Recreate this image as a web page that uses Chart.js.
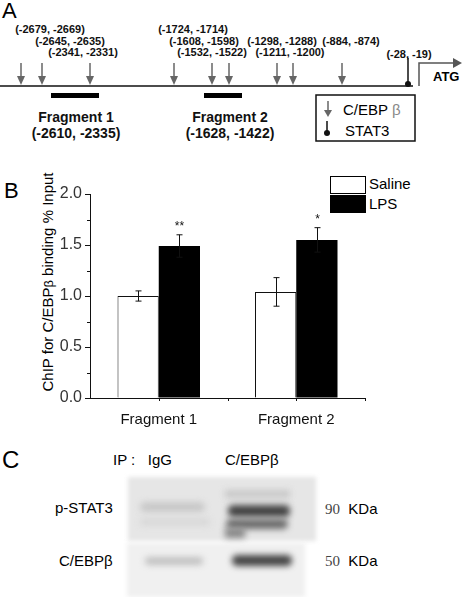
<!DOCTYPE html>
<html><head><meta charset="utf-8">
<script src="https://cdn.jsdelivr.net/npm/chart.js@4"></script>
<style>
body{margin:0;width:474px;height:597px;position:relative;background:#fff;font-family:Arial,"Liberation Sans",sans-serif;overflow:hidden}
.t{position:absolute;white-space:nowrap}
.blur{position:absolute;filter:blur(3px)}
</style></head><body>
<script>
const categories = ["Fragment 1", "Fragment 2"];
const salineValues = [1.00, 1.04];
const salineErrors = [0.05, 0.14];
const lpsValues = [1.49, 1.55];
const lpsErrors = [0.11, 0.12];
const significance = ["**", "*"];
const yTicks = [0, 0.5, 1.0, 1.5, 2.0];
</script>

<svg style="position:absolute;left:0;top:0" width="474" height="165">
<text x="2" y="18" font-size="22" font-family="Arial">A</text>
<g font-size="11" font-weight="bold" font-family="Arial" text-anchor="middle" fill="#111">
<text x="50" y="33">(-2679, -2669)</text>
<text x="70" y="45">(-2645, -2635)</text>
<text x="83" y="56">(-2341, -2331)</text>
<text x="193" y="33">(-1724, -1714)</text>
<text x="204" y="45">(-1608, -1598)</text>
<text x="212" y="56">(-1532, -1522)</text>
<text x="282" y="45">(-1298, -1288)</text>
<text x="290" y="56">(-1211, -1200)</text>
<text x="351" y="45">(-884, -874)</text>
<text x="409" y="58">(-28, -19)</text>
</g>
<line x1="0" y1="86" x2="413" y2="86" stroke="#111" stroke-width="1.5"/>
<g id="arrows"></g>
<line x1="408" y1="58" x2="408" y2="83" stroke="#111" stroke-width="1.5"/>
<circle cx="408" cy="84" r="3" fill="#111"/>
<polyline points="419,86 419,63 455,63" fill="none" stroke="#555" stroke-width="1.5"/>
<polygon points="462,63 453,58 453,68" fill="#555"/>
<text x="433" y="81" font-size="13" font-weight="bold" font-family="Arial">ATG</text>
<rect x="51" y="93" width="48" height="5" fill="#000"/>
<rect x="204" y="93" width="38" height="5" fill="#000"/>
<g font-size="14" font-weight="bold" font-family="Arial" text-anchor="middle" fill="#111">
<text x="76" y="122">Fragment 1</text>
<text x="76" y="138">(-2610, -2335)</text>
<text x="230" y="122">Fragment 2</text>
<text x="230" y="138">(-1628, -1422)</text>
</g>
<rect x="316" y="95" width="99" height="46" fill="#fff" stroke="#111" stroke-width="1.5"/>
<line x1="328" y1="101" x2="328" y2="114" stroke="#666" stroke-width="1.5"/>
<polygon points="324,110 332,110 328,117" fill="#666"/>
<line x1="327" y1="121" x2="327" y2="132" stroke="#111" stroke-width="1.5"/>
<circle cx="327" cy="133" r="3" fill="#111"/>
<text x="343" y="115" font-size="15" font-family="Arial">C/EBP <tspan fill="#888">β</tspan></text>
<text x="345" y="136" font-size="15" font-family="Arial">STAT3</text>
</svg>

<div class="t" style="left:4px;top:178px;font-size:22px">B</div>
<div class="t" style="left:47px;top:282px;font-size:15px;transform:translate(-50%,-50%) rotate(-90deg)">ChIP for C/EBP<span style="font-size:13px">β</span> binding % Input</div>
<div style="position:absolute;left:330px;top:176px;width:34px;height:16px;border:1px solid #000;background:#fff"></div>
<div style="position:absolute;left:330px;top:195px;width:36px;height:18px;background:#000"></div>
<div class="t" style="left:369px;top:175px;font-size:15px">Saline</div>
<div class="t" style="left:369px;top:195px;font-size:15px">LPS</div>

<div style="position:absolute;left:0;top:180px;width:474px;height:250px"><canvas id="c"></canvas></div>

<div class="t" style="left:2px;top:446px;font-size:24px">C</div>
<div class="t" style="left:113px;top:451px;font-size:15px">IP :&nbsp;&nbsp;&nbsp;IgG</div>
<div class="t" style="left:225px;top:451px;font-size:15px">C/EBPβ</div>
<div class="t" style="left:55px;top:499px;font-size:15px">p-STAT3</div>
<div class="t" style="left:59px;top:552px;font-size:15px">C/EBPβ</div>
<div class="t" style="left:325px;top:500px;font-size:15px"><span style="font-family:'Liberation Serif',serif;color:#444">90</span>&nbsp; KDa</div>
<div class="t" style="left:325px;top:552px;font-size:15px"><span style="font-family:'Liberation Serif',serif;color:#444">50</span>&nbsp; KDa</div>
<div style="position:absolute;left:128px;top:477px;width:188px;height:64px;background:#e6e6e6;filter:blur(2px)"></div>
<div style="position:absolute;left:127px;top:543px;width:178px;height:54px;background:#f0f0f0;filter:blur(2px)"></div>
<div class="blur" style="left:140px;top:502px;width:65px;height:10px;background:#c8c8c8;border-radius:5px"></div>
<div class="blur" style="left:140px;top:518px;width:70px;height:8px;background:#d8d8d8;border-radius:4px"></div>
<div class="blur" style="left:225px;top:490px;width:65px;height:8px;background:#c8c8c8"></div>
<div class="blur" style="left:228px;top:505px;width:62px;height:12px;background:#444;border-radius:5px"></div>
<div class="blur" style="left:226px;top:519px;width:62px;height:10px;background:#6a6a6a;border-radius:5px"></div>
<div class="blur" style="left:225px;top:528px;width:20px;height:10px;background:#888"></div>
<div class="blur" style="left:145px;top:557px;width:58px;height:8px;background:#c0c0c0;border-radius:4px"></div>
<div class="blur" style="left:232px;top:555px;width:60px;height:11px;background:#444;border-radius:5px"></div>

<script>
const A = document.getElementById('arrows');
[21,42,90,174,212,229,277,293,342].forEach(x=>{
  A.innerHTML += `<line x1="${x}" y1="63" x2="${x}" y2="80" stroke="#666" stroke-width="1.5"/><polygon points="${x-4},76 ${x+4},76 ${x},85" fill="#666"/>`;
});
const extras = {
  id:'extras',
  afterDatasetsDraw(ch){
    const c=ch.ctx, y=ch.scales.y, a=ch.chartArea;
    c.save(); c.lineWidth=1;
    [[0,salineValues,salineErrors],[1,lpsValues,lpsErrors]].forEach(([di,v,e])=>{
      ch.getDatasetMeta(di).data.forEach((bar,i)=>{
        const px=Math.round(bar.x)+0.5, t=y.getPixelForValue(v[i]+e[i]), b=y.getPixelForValue(v[i]-e[i]);
        c.strokeStyle='#111';
        c.beginPath(); c.moveTo(px,t); c.lineTo(px,b);
        c.moveTo(px-3,t); c.lineTo(px+3,t); c.moveTo(px-3,b); c.lineTo(px+3,b); c.stroke();
        if(di===1){ c.fillStyle='#111'; c.font='12px Arial'; c.textAlign='center'; c.fillText(significance[i],px,t-5); }
      });
    });
    c.strokeStyle='#111';
    c.beginPath();
    for(let v=0.25; v<2; v+=0.5){const py=Math.round(y.getPixelForValue(v))+0.5; c.moveTo(a.left,py); c.lineTo(a.left-3,py);}
    const w=(a.right-a.left)/categories.length;
    for(let k=1;k<=categories.length*2;k++){const px=Math.round(a.left+k*w/2)+0.5; c.moveTo(px,a.bottom); c.lineTo(px,a.bottom+3);}
    c.stroke(); c.restore();
  }
};
new Chart(document.getElementById('c'),{
  type:'bar',
  data:{labels:categories,datasets:[
    {label:'Saline',data:salineValues,backgroundColor:'#fff',borderColor:'#111',borderWidth:1,borderSkipped:'bottom'},
    {label:'LPS',data:lpsValues,backgroundColor:'#000',borderColor:'#000',borderWidth:0}
  ]},
  options:{responsive:true,maintainAspectRatio:false,animation:false,
    layout:{padding:{top:14,right:109,left:0,bottom:0}},
    plugins:{legend:{display:false},tooltip:{enabled:false}},
    datasets:{bar:{categoryPercentage:0.6,barPercentage:1}},
    scales:{
      x:{grid:{display:false},border:{color:'#111',width:1},
         ticks:{color:'#111',font:{size:15,family:'Arial'},padding:5},
         afterFit(s){s.height=32;}},
      y:{min:0,max:2,grid:{drawOnChartArea:false,tickLength:5,color:'#111'},border:{color:'#111',width:1},
         afterBuildTicks(s){s.ticks=yTicks.map(v=>({value:v}));},
         ticks:{color:'#333',font:{size:16,family:'Arial'},padding:3,callback:v=>Number(v).toFixed(1)},
         afterFit(s){s.width=90;}}
    }}
  ,plugins:[extras]});
</script>
</body></html>
